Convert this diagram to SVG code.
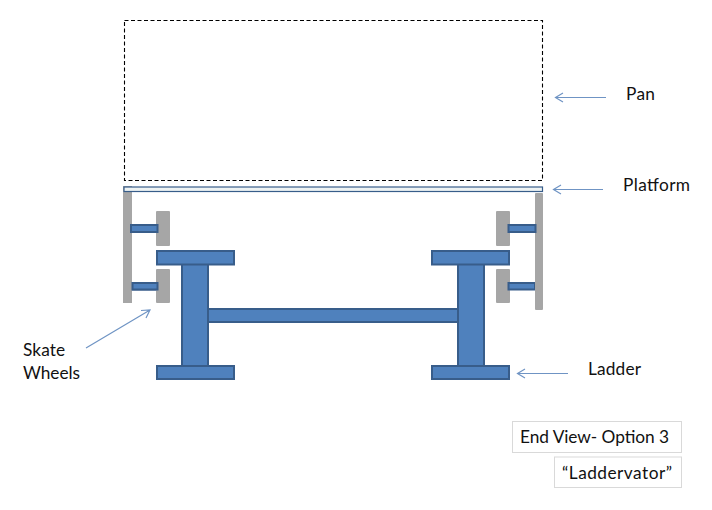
<svg xmlns="http://www.w3.org/2000/svg" width="712" height="510" viewBox="0 0 712 510">
<style>
.g{fill:#a6a6a6}
.b{fill:#4f81bd;stroke:#385d8a;stroke-width:2}
.a{fill:none;stroke:#6f94c4;stroke-width:1.2}
.t{font-family:"Lato","Open Sans",sans-serif;font-size:17.3px;fill:#111}
.x{fill:#fff;stroke:#d9d9d9;stroke-width:1}
</style>
<rect width="712" height="510" fill="#fff"/>
<g id="pan"><rect x="124.500" y="20.500" width="418" height="160" fill="none" stroke="#000" stroke-width="1.100" stroke-dasharray="4 2.500"/></g>
<g id="left-carriage">
<rect class="b" x="132.500" y="283" width="25" height="6.500"/>
<rect class="g" x="123" y="186" width="9" height="117"/>
<rect class="g" x="156" y="211" width="14" height="35" rx="1"/>
<rect class="g" x="156" y="269" width="14" height="34" rx="1"/>
<rect class="b" x="131" y="225" width="26.500" height="7"/>
<rect class="b" x="132.500" y="283" width="25" height="6.500"/>
</g>
<g id="right-carriage">
<rect class="g" x="496" y="211" width="14" height="35" rx="1"/>
<rect class="g" x="496" y="269" width="14" height="34" rx="1"/>
<rect class="b" x="508.500" y="283" width="26.500" height="6.500"/>
<rect class="g" x="535" y="193" width="8" height="117" rx="1"/>
<rect class="b" x="508.500" y="225" width="27" height="7"/>
</g>
<g id="platform"><rect x="124" y="187" width="418.500" height="4.500" fill="#eef3f3" stroke="#385d8a" stroke-width="1.200"/></g>
<g id="ladder">
<rect class="b" x="208" y="309" width="250" height="13"/>
<rect class="b" x="182" y="264" width="26" height="102"/>
<rect class="b" x="157" y="251" width="77" height="13.500"/>
<rect class="b" x="157" y="366" width="77" height="13"/>
<rect class="b" x="458" y="264" width="26" height="102"/>
<rect class="b" x="432" y="251" width="77" height="13.500"/>
<rect class="b" x="432" y="366" width="77" height="13"/>
</g>
<g id="connectors">
<path class="a" d="M606 97.500H556M563 93L555.500 97.500L563 102"/>
<path class="a" d="M603 189.500H554M561 185L553.500 189.500L561 194"/>
<path class="a" d="M568 373.500H518M525 369L517.500 373.500L525 378"/>
<path class="a" d="M86 348L150 310M141 310.500L150 310L146 318"/>
</g>
<g id="label-pan"><text class="t" x="626" y="100" textLength="29">Pan</text></g>
<g id="label-platform"><text class="t" x="623" y="191" textLength="67">Platform</text></g>
<g id="label-skate"><text class="t" x="23" y="356" textLength="42">Skate</text><text class="t" x="23" y="379" textLength="57">Wheels</text></g>
<g id="label-ladder"><text class="t" x="588" y="375" textLength="53">Ladder</text></g>
<g id="title-box"><rect class="x" x="512.500" y="421.500" width="169" height="31"/><text class="t" x="520" y="443" textLength="149">End View- Option 3</text></g>
<g id="name-box"><rect class="x" x="554.500" y="457" width="127" height="30.500"/><text class="t" x="562" y="478.500" textLength="110">“Laddervator”</text></g>
</svg>
